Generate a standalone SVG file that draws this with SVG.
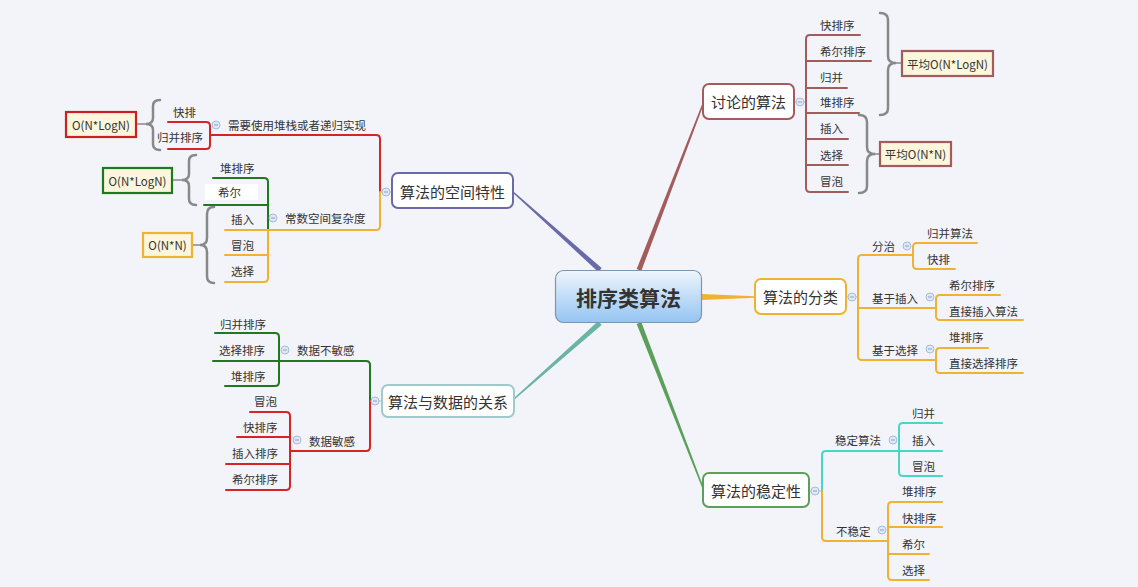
<svg xmlns="http://www.w3.org/2000/svg" width="1138" height="587" viewBox="0 0 1138 587">
<defs>
<linearGradient id="cg" x1="0" y1="0" x2="0" y2="1">
<stop offset="0" stop-color="#eef5fd"/>
<stop offset="1" stop-color="#95c4f2"/>
</linearGradient>
</defs>
<style>
text{font-family:"Noto Sans CJK SC","Noto Sans",sans-serif;fill:#333;dominant-baseline:central}
.s{font-size:11.5px}
.m{font-size:15px}
.c{font-size:21px;font-weight:bold;text-anchor:middle}
.mid{text-anchor:middle}
.ln{fill:none;stroke-width:2;stroke-linecap:round}
.red{stroke:#d42424}
.org{stroke:#f0b232}
.grn{stroke:#1f7a1f}
.brn{stroke:#a35c5c}
.cyn{stroke:#4ad6c6}
.stub{fill:none;stroke:#aabbd0;stroke-width:1}
.brace{fill:none;stroke:#888;stroke-width:2.5;stroke-linecap:round}
.box{fill:#fbf6dc;stroke-width:2.2}
.node{fill:#fff;stroke-width:2}
.col{fill:#dfe8f7;stroke:#a8bcd8;stroke-width:1}
.colm{stroke:#8aa0c0;stroke-width:1}
</style>
<rect width="1138" height="587" fill="#f3f4f9"/>

<g id="connectors">
<polygon points="513.5,191.4 512.5,192.6 598.3,271.9 601.7,268.1" fill="#6a6aa8"/>
<polygon points="703.7,104.3 702.3,103.7 636.7,269.1 641.3,270.9" fill="#a35c5c"/>
<polygon points="702,294 755,296.3 755,297.7 702,300" fill="#f0b232"/>
<polygon points="514.5,399.6 513.5,398.4 598.3,321.1 601.7,324.9" fill="#6ab4a6"/>
<polygon points="703.7,487.7 702.3,488.3 636.7,323.9 641.3,322.1" fill="#5aa05a"/>

<!-- space branch -->
<path class="stub" d="M392,192 H380"/>
<path class="ln red" d="M380,192 V139 Q380,135 376,135 H210"/>
<path class="ln red" d="M168,122 H206 Q210,122 210,126 V145 Q210,149 206,149 H168"/>
<path class="ln org" d="M380,192 V226 Q380,230 376,230 H268"/>
<path class="ln grn" d="M213,178 H264 Q268,178 268,182 V230"/>
<path class="ln grn" d="M204,205 H268"/>
<path class="ln org" d="M225,230 H268 V278 Q268,282 264,282 H225"/>
<path class="ln org" d="M225,255 H268"/>

<!-- relation branch -->
<path class="stub" d="M382,401 H370"/>
<path class="ln grn" d="M370,401 V365 Q370,361 366,361 H213"/>
<path class="ln grn" d="M215,333 H275 Q279,333 279,337 V382 Q279,386 275,386 H225"/>
<path class="ln red" d="M370,401 V447 Q370,451 366,451 H290"/>
<path class="ln red" d="M250,412 H286 Q290,412 290,416 V486 Q290,490 286,490 H226"/>
<path class="ln red" d="M237,437 H290 M226,464 H290"/>

<!-- discuss branch -->
<path class="stub" d="M794,102 H806"/>
<path class="ln brn" d="M806,102 V39 Q806,35 810,35 H860"/>
<path class="ln brn" d="M806,102 V188 Q806,192 810,192 H848"/>
<path class="ln brn" d="M806,61 H871 M806,88 H847 M806,113 H859 M806,139 H848 M806,165 H848"/>

<!-- classification branch -->
<path class="stub" d="M846,297 H858"/>
<path class="ln org" d="M858,297 V259 Q858,255 862,255 H913"/>
<path class="ln org" d="M858,297 V356 Q858,360 862,360 H936"/>
<path class="ln org" d="M858,308 H936"/>
<path class="ln org" d="M913,255 V247 Q913,243 917,243 H977 M913,255 V265 Q913,269 917,269 H955"/>
<path class="ln org" d="M936,308 V299 Q936,295 940,295 H1000 M936,308 V316 Q936,320 940,320 H1023"/>
<path class="ln org" d="M936,360 V352 Q936,348 940,348 H988 M936,360 V369 Q936,373 940,373 H1023"/>

<!-- stability branch -->
<path class="stub" d="M809,491 H822"/>
<path class="ln cyn" d="M822,491 V455 Q822,451 826,451 H942"/>
<path class="ln cyn" d="M942,423 H903 Q899,423 899,427 V472 Q899,476 903,476 H942"/>
<path class="ln org" d="M822,491 V537 Q822,541 826,541 H888"/>
<path class="ln org" d="M942,502 H892 Q888,502 888,506 V576 Q888,580 892,580 H929"/>
<path class="ln org" d="M888,527 H942 M888,554 H929"/>

<!-- braces -->
<path class="brace" d="M160,100 Q153,100 153,106 V118 Q153,124 146,124 Q153,124 153,130 V144 Q153,150 160,150"/>
<path class="stub" style="stroke:#888;stroke-width:1.5" d="M136,124 H146"/>
<path class="brace" d="M196,155 Q189,155 189,161 V174 Q189,180 182,180 Q189,180 189,186 V199 Q189,205 196,205"/>
<path class="stub" style="stroke:#888;stroke-width:1.5" d="M172,180 H182"/>
<path class="brace" d="M214,207 Q207,207 207,214 V238 Q207,245 200,245 Q207,245 207,252 V276 Q207,283 214,283"/>
<path class="stub" style="stroke:#888;stroke-width:1.5" d="M192,245 H200"/>
<path class="brace" d="M880,13 Q888,13 888,20 V56 Q888,63 896,63 Q888,63 888,70 V108 Q888,115 880,115"/>
<path class="stub" style="stroke:#888;stroke-width:1.5" d="M896,63 H902"/>
<path class="brace" d="M859,115 Q867,115 867,122 V147 Q867,154 875,154 Q867,154 867,161 V186 Q867,193 859,193"/>
<path class="stub" style="stroke:#888;stroke-width:1.5" d="M875,154 H880"/>
</g>

<g id="center">
<rect x="555.5" y="270.5" width="146" height="52" rx="8" fill="url(#cg)" stroke="#7d95ae" stroke-width="1.2"/>
<text class="c" x="628.5" y="297">排序类算法</text>
</g>

<g id="space">
<rect class="node" x="392" y="173" width="121" height="35" rx="6" stroke="#6a6aa8"/>
<text class="m mid" x="452.5" y="191">算法的空间特性</text>
<circle class="col" cx="386" cy="192" r="4"/><path class="colm" d="M384,192 H388"/>
</g>
<g id="space-recursion">
<text class="s" x="228" y="125">需要使用堆栈或者递归实现</text>
<circle class="col" cx="216" cy="125" r="4"/><path class="colm" d="M214,125 H218"/>
</g>
<g id="space-quick"><text class="s" x="173" y="112">快排</text></g>
<g id="space-merge"><text class="s" x="157" y="137">归并排序</text></g>
<g id="space-red-box">
<rect class="box" x="66" y="112" width="70" height="25" stroke="#cc1f1f"/>
<text class="s mid" x="101" y="124.5">O(N*LogN)</text>
</g>
<g id="space-const">
<text class="s" x="285" y="218">常数空间复杂度</text>
<circle class="col" cx="273" cy="218" r="4"/><path class="colm" d="M271,218 H275"/>
</g>
<g id="space-heap"><text class="s" x="220" y="168">堆排序</text></g>
<g id="space-shell">
<rect x="205" y="184" width="53" height="16" fill="#fff"/>
<text class="s" x="218" y="192">希尔</text>
</g>
<g id="space-insert"><text class="s" x="231" y="219">插入</text></g>
<g id="space-bubble"><text class="s" x="231" y="245">冒泡</text></g>
<g id="space-select"><text class="s" x="231" y="271">选择</text></g>
<g id="space-green-box">
<rect class="box" x="103" y="168" width="69" height="25" stroke="#1f7a1f"/>
<text class="s mid" x="137.5" y="180.5">O(N*LogN)</text>
</g>
<g id="space-orange-box">
<rect class="box" x="143" y="233" width="49" height="24" stroke="#f0b232"/>
<text class="s mid" x="167.5" y="245">O(N*N)</text>
</g>

<g id="relation">
<rect class="node" x="382" y="385" width="132" height="32" rx="6" stroke="#9fcaca"/>
<text class="m mid" x="448" y="401">算法与数据的关系</text>
<circle class="col" cx="375" cy="401" r="4"/><path class="colm" d="M373,401 H377"/>
</g>
<g id="rel-insensitive">
<text class="s" x="297" y="350">数据不敏感</text>
<circle class="col" cx="285" cy="350" r="4"/><path class="colm" d="M283,350 H287"/>
</g>
<g id="rel-merge"><text class="s" x="220" y="324">归并排序</text></g>
<g id="rel-select"><text class="s" x="219" y="350">选择排序</text></g>
<g id="rel-heap"><text class="s" x="231" y="376">堆排序</text></g>
<g id="rel-sensitive">
<text class="s" x="309" y="441">数据敏感</text>
<circle class="col" cx="297" cy="440" r="4"/><path class="colm" d="M295,440 H299"/>
</g>
<g id="rel-bubble"><text class="s" x="254" y="401">冒泡</text></g>
<g id="rel-quick"><text class="s" x="243" y="427">快排序</text></g>
<g id="rel-insert"><text class="s" x="232" y="453">插入排序</text></g>
<g id="rel-shell"><text class="s" x="232" y="479">希尔排序</text></g>

<g id="discuss">
<rect class="node" x="703" y="84" width="91" height="35" rx="6" stroke="#a35c5c"/>
<text class="m mid" x="748.5" y="101.5">讨论的算法</text>
<circle class="col" cx="800" cy="102" r="4"/><path class="colm" d="M798,102 H802"/>
</g>
<g id="d-quick"><text class="s" x="820" y="25">快排序</text></g>
<g id="d-shell"><text class="s" x="820" y="51">希尔排序</text></g>
<g id="d-merge"><text class="s" x="820" y="77">归并</text></g>
<g id="d-heap"><text class="s" x="820" y="102">堆排序</text></g>
<g id="d-insert"><text class="s" x="820" y="128">插入</text></g>
<g id="d-select"><text class="s" x="820" y="155">选择</text></g>
<g id="d-bubble"><text class="s" x="820" y="181">冒泡</text></g>
<g id="d-box1">
<rect class="box" x="902" y="51" width="91" height="25" stroke="#a35c5c"/>
<text class="s mid" x="947.5" y="63.5">平均O(N*LogN)</text>
</g>
<g id="d-box2">
<rect class="box" x="880" y="142" width="71" height="24" stroke="#a35c5c"/>
<text class="s mid" x="915.5" y="154">平均O(N*N)</text>
</g>

<g id="classify">
<rect class="node" x="755" y="279" width="91" height="35" rx="6" stroke="#f0b232"/>
<text class="m mid" x="800.5" y="296.5">算法的分类</text>
<circle class="col" cx="852" cy="297" r="4"/><path class="colm" d="M850,297 H854"/>
</g>
<g id="c-divide">
<text class="s" x="872" y="246">分治</text>
<circle class="col" cx="907" cy="246" r="4"/><path class="colm" d="M905,246 H909"/>
</g>
<g id="c-merge"><text class="s" x="927" y="233">归并算法</text></g>
<g id="c-quick"><text class="s" x="927" y="259">快排</text></g>
<g id="c-byinsert">
<text class="s" x="872" y="298">基于插入</text>
<circle class="col" cx="930" cy="297" r="4"/><path class="colm" d="M928,297 H932"/>
</g>
<g id="c-shell"><text class="s" x="949" y="285">希尔排序</text></g>
<g id="c-direct-insert"><text class="s" x="949" y="311">直接插入算法</text></g>
<g id="c-byselect">
<text class="s" x="872" y="350">基于选择</text>
<circle class="col" cx="930" cy="349" r="4"/><path class="colm" d="M928,349 H932"/>
</g>
<g id="c-heap"><text class="s" x="949" y="337">堆排序</text></g>
<g id="c-direct-select"><text class="s" x="949" y="363">直接选择排序</text></g>

<g id="stability">
<rect class="node" x="703" y="473" width="106" height="34" rx="6" stroke="#5aa05a"/>
<text class="m mid" x="756" y="490">算法的稳定性</text>
<circle class="col" cx="815" cy="491" r="4"/><path class="colm" d="M813,491 H817"/>
</g>
<g id="s-stable">
<text class="s" x="835" y="440">稳定算法</text>
<circle class="col" cx="893" cy="440" r="4"/><path class="colm" d="M891,440 H895"/>
</g>
<g id="s-merge"><text class="s" x="912" y="413">归并</text></g>
<g id="s-insert"><text class="s" x="912" y="440">插入</text></g>
<g id="s-bubble"><text class="s" x="912" y="466">冒泡</text></g>
<g id="s-unstable">
<text class="s" x="836" y="531">不稳定</text>
<circle class="col" cx="882" cy="530" r="4"/><path class="colm" d="M880,530 H884"/>
</g>
<g id="s-heap"><text class="s" x="902" y="491">堆排序</text></g>
<g id="s-quick"><text class="s" x="902" y="518">快排序</text></g>
<g id="s-shell"><text class="s" x="902" y="544">希尔</text></g>
<g id="s-select"><text class="s" x="902" y="570">选择</text></g>
</svg>
